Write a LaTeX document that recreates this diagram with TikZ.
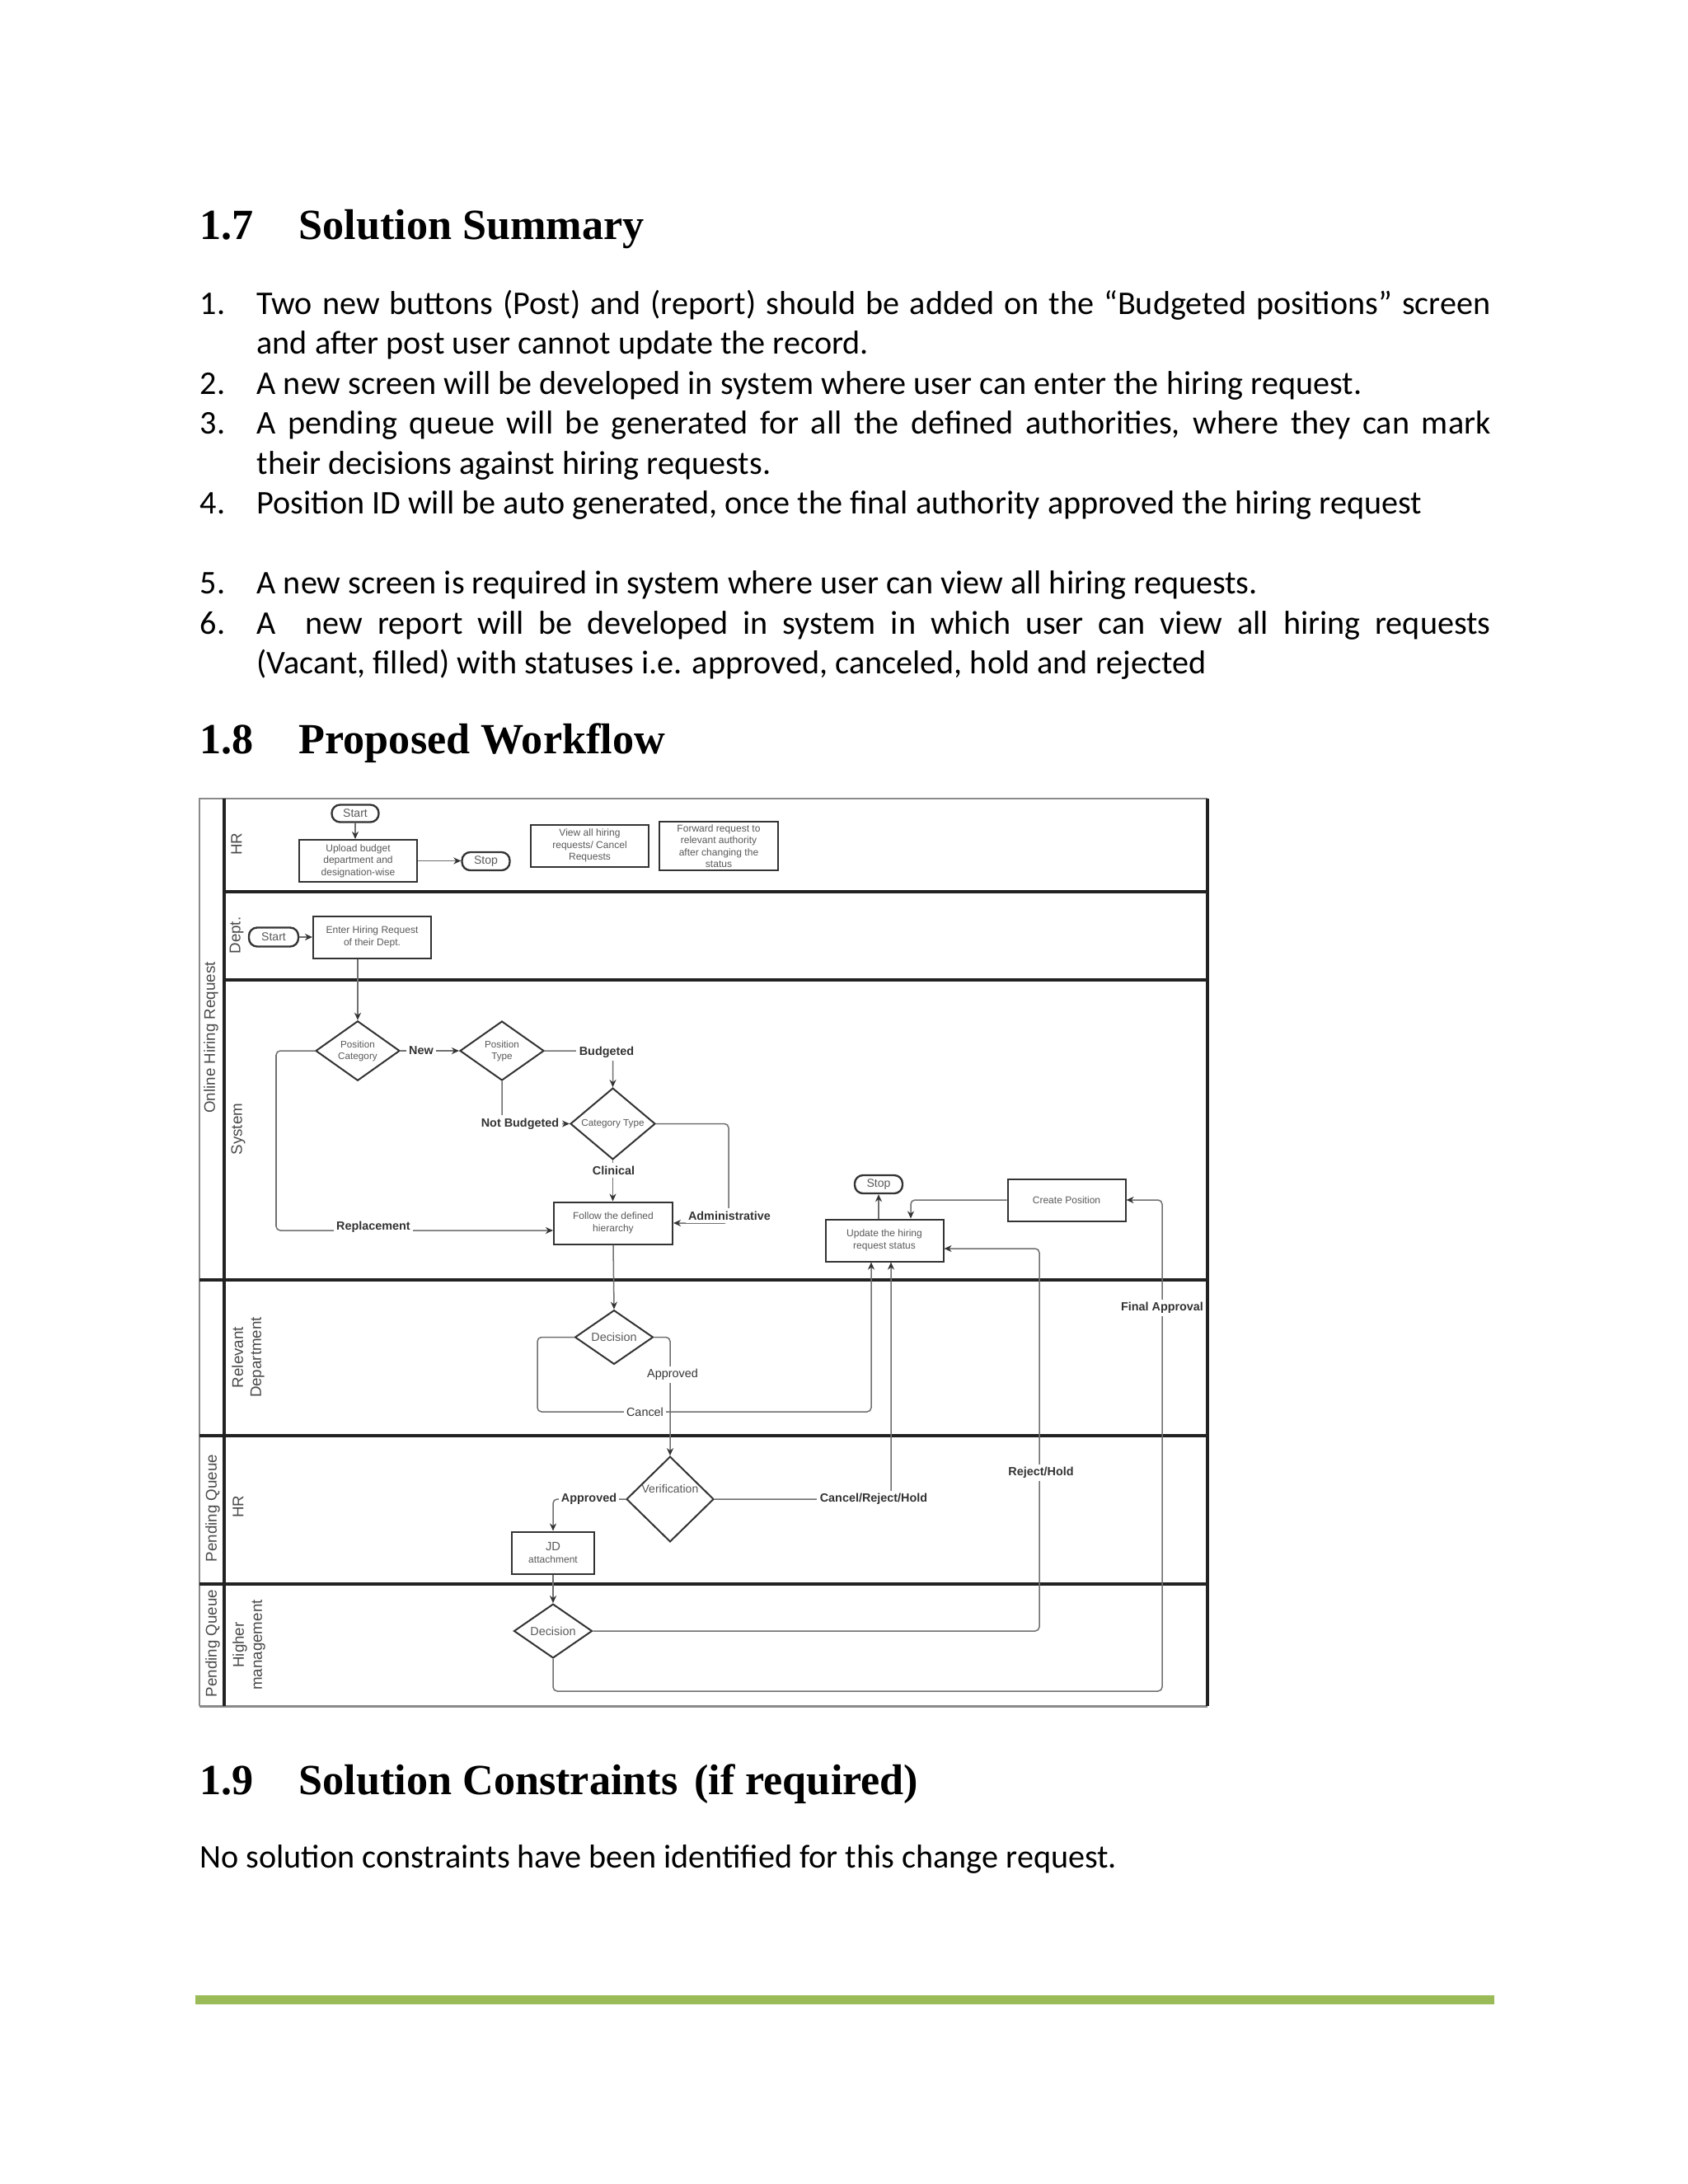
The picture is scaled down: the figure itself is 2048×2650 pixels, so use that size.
\documentclass[tikz,border=0pt]{standalone}
\usepackage{fontspec}
\setmainfont{Carlito}
\newfontfamily\headfont{Liberation Serif}
\newfontfamily\diafont{Liberation Sans}
\usetikzlibrary{shapes.geometric,arrows.meta}
\newlength\pxu \setlength\pxu{0.29883pt}
\definecolor{boxc}{HTML}{333333}
\definecolor{linec}{HTML}{707070}
\definecolor{lanec}{HTML}{222222}
\definecolor{outerc}{HTML}{8A8A8A}
\definecolor{txtc}{HTML}{5A5A5A}
\definecolor{lblc}{HTML}{333333}
\definecolor{lanetxt}{HTML}{4A4A4A}
\definecolor{greenbar}{HTML}{9BBB59}
\begin{document}
\begin{tikzpicture}[x=0.29883pt,y=-0.29883pt,
  box/.style={draw=boxc, line width=0.6pt, minimum width=143\pxu, minimum height=51\pxu, inner sep=1pt, align=center, font=\diafont\fontsize{3.6}{4.3}\selectfont, text=txtc},
  pill/.style={draw=boxc, line width=0.7pt, rounded corners=3pt, minimum width=58\pxu, minimum height=22\pxu, inner sep=0pt, font=\diafont\fontsize{4.2}{5}\selectfont, text=txtc},
  dia/.style={draw=boxc, line width=0.6pt, diamond, inner sep=0pt, align=center, font=\diafont\fontsize{3.5}{4.2}\selectfont, text=txtc},
  lbl/.style={fill=white, inner sep=1pt, font=\diafont\bfseries\fontsize{4.3}{5}\selectfont, text=lblc},
  conn/.style={draw=linec, line width=0.45pt, rounded corners=1.5pt},
  arr/.style={conn, -{Stealth[length=2.7pt, width=2.4pt, color=boxc]}},
  lane/.style={draw=lanec, line width=1.1pt},
  lanelbl/.style={rotate=90, inner sep=0pt, font=\diafont\fontsize{5.6}{6.6}\selectfont, text=lanetxt, align=center},
  body/.style={anchor=base west, inner sep=0pt, font=\fontsize{12}{14}\selectfont},
  head/.style={anchor=base west, inner sep=0pt, font=\headfont\bfseries\fontsize{15.6}{18}\selectfont}]
\useasboundingbox (0,0) rectangle (2048,2650);
\fill[white] (0,0) rectangle (2048,2650);

% ---------- page text ----------
\node[head] (h17n) at (242,290) {1.7};
\node[head] (h17t) at (362,290) {Solution Summary};

\node[body] (n1) at (242,381) {1.};
\node[body] (t1a) at (311,381) {\makebox[1497\pxu][s]{Two new buttons (Post) and (report) should be added on the “Budgeted positions” screen}};
\node[body] (t1b) at (311,429.5) {and after post user cannot update the record.};
\node[body] (n2) at (242,478) {2.};
\node[body] (t2) at (311,478) {A new screen will be developed in system where user can enter the hiring request.};
\node[body] (n3) at (242,526.5) {3.};
\node[body] (t3a) at (311,526.5) {\makebox[1497\pxu][s]{A pending queue will be generated for all the defined authorities, where they can mark}};
\node[body] (t3b) at (311,575) {their decisions against hiring requests.};
\node[body] (n4) at (242,623.5) {4.};
\node[body] (t4) at (311,623.5) {Position ID will be auto generated, once the final authority approved the hiring request};
\node[body] (n5) at (242,720.5) {5.};
\node[body] (t5) at (311,720.5) {A new screen is required in system where user can view all hiring requests.};
\node[body] (n6) at (242,769) {6.};
\node[body] (t6a) at (311,769) {\makebox[1497\pxu][s]{A\ \ new report will be developed in system in which user can view all hiring requests}};
\node[body] (t6b) at (311,817.5) {(Vacant, filled) with statuses i.e. approved, canceled, hold and rejected};

\node[head] (h18n) at (242,914) {1.8};
\node[head] (h18t) at (362,914) {Proposed Workflow};

\node[head] (h19n) at (242,2177) {1.9};
\node[head] (h19t) at (362,2177) {Solution Constraints\hspace{2pt} (if required)};
\node[body] (nosol) at (242,2266) {No solution constraints have been identified for this change request.};

\fill[greenbar] (237,2421) rectangle (1813,2432);

% ---------- swimlanes ----------
\draw[outerc, line width=0.6pt] (1465,969) -- (242,969) -- (242,2070);
\draw[outerc, line width=0.9pt] (242,2070) -- (1465,2070);
\draw[lane] (1465,969) -- (1465,2070);
\draw[lane] (272,969) -- (272,2070);
\draw[lane] (272,1082) -- (1465,1082);
\draw[lane] (272,1189) -- (1465,1189);
\draw[lane] (242,1553) -- (1467,1553);
\draw[lane] (242,1742) -- (1467,1742);
\draw[lane] (242,1922) -- (1465,1922);

\node[lanelbl] (lohr) at (256,1259) {Online Hiring Request};
\node[lanelbl] (lhr) at (287,1024) {HR};
\node[lanelbl] (ldept) at (287,1135) {Dept.};
\node[lanelbl] (lsys) at (289,1370) {System};
\node[lanelbl] (lrel) at (301,1647) {Relevant\\Department};
\node[lanelbl] (lpq1) at (258,1830) {Pending Queue};
\node[lanelbl] (lphr) at (289,1828) {HR};
\node[lanelbl] (lpq2) at (258,1994) {Pending Queue};
\node[lanelbl] (lhm) at (302,1996) {Higher\\management};

% ---------- nodes ----------
\node[pill, minimum width=57\pxu, minimum height=21\pxu] (hrstart) at (431,987) {Start};
\node[box] (upload) at (434.5,1044.5) {Upload budget\\department and\\designation-wise};
\node[pill] (hrstop) at (589.5,1045) {Stop};
\node[box] (viewall) at (715.5,1026) {View all hiring\\requests/ Cancel\\Requests};
\node[box, minimum width=144\pxu] (forward) at (872,1026.5) {Forward request to\\relevant authority\\after changing the\\status};

\node[pill, minimum width=60\pxu, minimum height=23\pxu] (dstart) at (332,1137) {Start};
\node[box] (enter) at (451.5,1137) {Enter Hiring Request\\of their Dept.};

\node[dia, minimum width=102\pxu, minimum height=72\pxu] (poscat) at (434,1275) {Position\\Category};
\node[dia, minimum width=102\pxu, minimum height=72\pxu] (postype) at (609,1275) {Position\\Type};
\node[dia, minimum width=103\pxu, minimum height=74\pxu] (cattype) at (743.5,1363.5) {Category Type};
\node[box, minimum width=144\pxu] (follow) at (744,1484) {Follow the defined\\hierarchy};
\node[pill] (sysstop) at (1066,1437) {Stop};
\node[box] (update) at (1073,1505) {Update the hiring\\request status};
\node[box] (create) at (1294,1456) {Create Position};

\node[dia, minimum width=95\pxu, minimum height=62\pxu, font=\diafont\fontsize{4.3}{5}\selectfont] (rdec) at (745,1622.5) {Decision};
\node[dia, minimum width=106\pxu, minimum height=86\pxu, font=\diafont\fontsize{4.2}{5}\selectfont] (verif) at (813,1819) {Verification\\[2.4pt]};
\node[box, minimum width=100\pxu] (jd) at (671,1884) {\fontsize{4.4}{5.6}\selectfont JD\\attachment};
\node[dia, minimum width=95\pxu, minimum height=58\pxu, font=\diafont\fontsize{4.3}{5}\selectfont] (hmdec) at (671,1979) {Decision};

% ---------- bend points ----------
\coordinate (rp1) at (335,1275);
\coordinate (rp2) at (335,1493);
\coordinate (ad1) at (884,1363.5);
\coordinate (ad2) at (884,1484);
\coordinate (ca0) at (652,1622.5);
\coordinate (ca1) at (652,1713);
\coordinate (ca2) at (1057,1713);
\coordinate (crh) at (1081,1819);
\coordinate (rh1) at (1261,1979);
\coordinate (rh2) at (1261,1515);
\coordinate (fa1) at (671,2052);
\coordinate (fa2) at (1410,2052);
\coordinate (fa3) at (1410,1456);
\coordinate (cp1) at (1105,1456);

% ---------- connectors ----------
\draw[arr] (hrstart.south) -- (hrstart.south |- upload.north);
\draw[arr] (upload.east) -- (upload.east -| hrstop.west);
\draw[arr] (dstart.east) -- (dstart.east -| enter.west);
\draw[arr] (enter.south -| poscat.north) -- (poscat.north);
\draw[arr] (poscat.east) -- (postype.west);
\draw[arr] (postype.east) -| (cattype.north);
\draw[arr] (postype.south) |- (cattype.west);
\draw[arr] (cattype.south) -- (cattype.south |- follow.north);
\draw[arr] (cattype.east) -- (ad1) -- (ad2) -- (follow.east);
\draw[arr] (poscat.west) -- (rp1) -- (rp2) -- (rp2 -| follow.west);
\draw[arr] (follow.south) -- (rdec.north);
\draw[arr] (rdec.west) -- (ca0) -- (ca1) -- (ca2) -- (ca2 |- update.south);
\draw[arr] (rdec.east) -| (verif.north);
\draw[arr] (verif.west) -| (jd.north);
\draw[arr] (verif.east) -- (crh) -- (crh |- update.south);
\draw[arr] (jd.south) -- (hmdec.north);
\draw[arr] (hmdec.east) -- (rh1) -- (rh2) -- (rh2 -| update.east);
\draw[arr] (hmdec.south) -- (fa1) -- (fa2) -- (fa3) -- (create.east);
\draw[arr] (update.north -| sysstop.south) -- (sysstop.south);
\draw[arr] (create.west) -- (cp1) -- (cp1 |- update.north);

% ---------- connector labels ----------
\node[lbl] (lnew) at (511,1275) {New};
\node[lbl] (lbud) at (736,1277) {Budgeted};
\node[lbl] (lnotbud) at (631,1363.5) {Not Budgeted};
\node[lbl] (lclin) at (744.5,1420) {Clinical};
\node[lbl] (ladmin) at (885,1475) {Administrative};
\node[lbl] (lrepl) at (453,1489) {Replacement};
\node[lbl, font=\diafont\fontsize{4.3}{5}\selectfont] (lcancel) at (782.5,1713) {Cancel};
\node[lbl, font=\diafont\fontsize{4.3}{5}\selectfont] (lappr1) at (816,1668) {Approved};
\node[lbl] (lappr2) at (714.5,1819) {Approved};
\node[lbl] (lcrh) at (1060,1819) {Cancel/Reject/Hold};
\node[lbl] (lrh) at (1263,1787) {Reject/Hold};
\node[lbl] (lfa) at (1410,1587) {Final Approval};
\end{tikzpicture}
\end{document}
